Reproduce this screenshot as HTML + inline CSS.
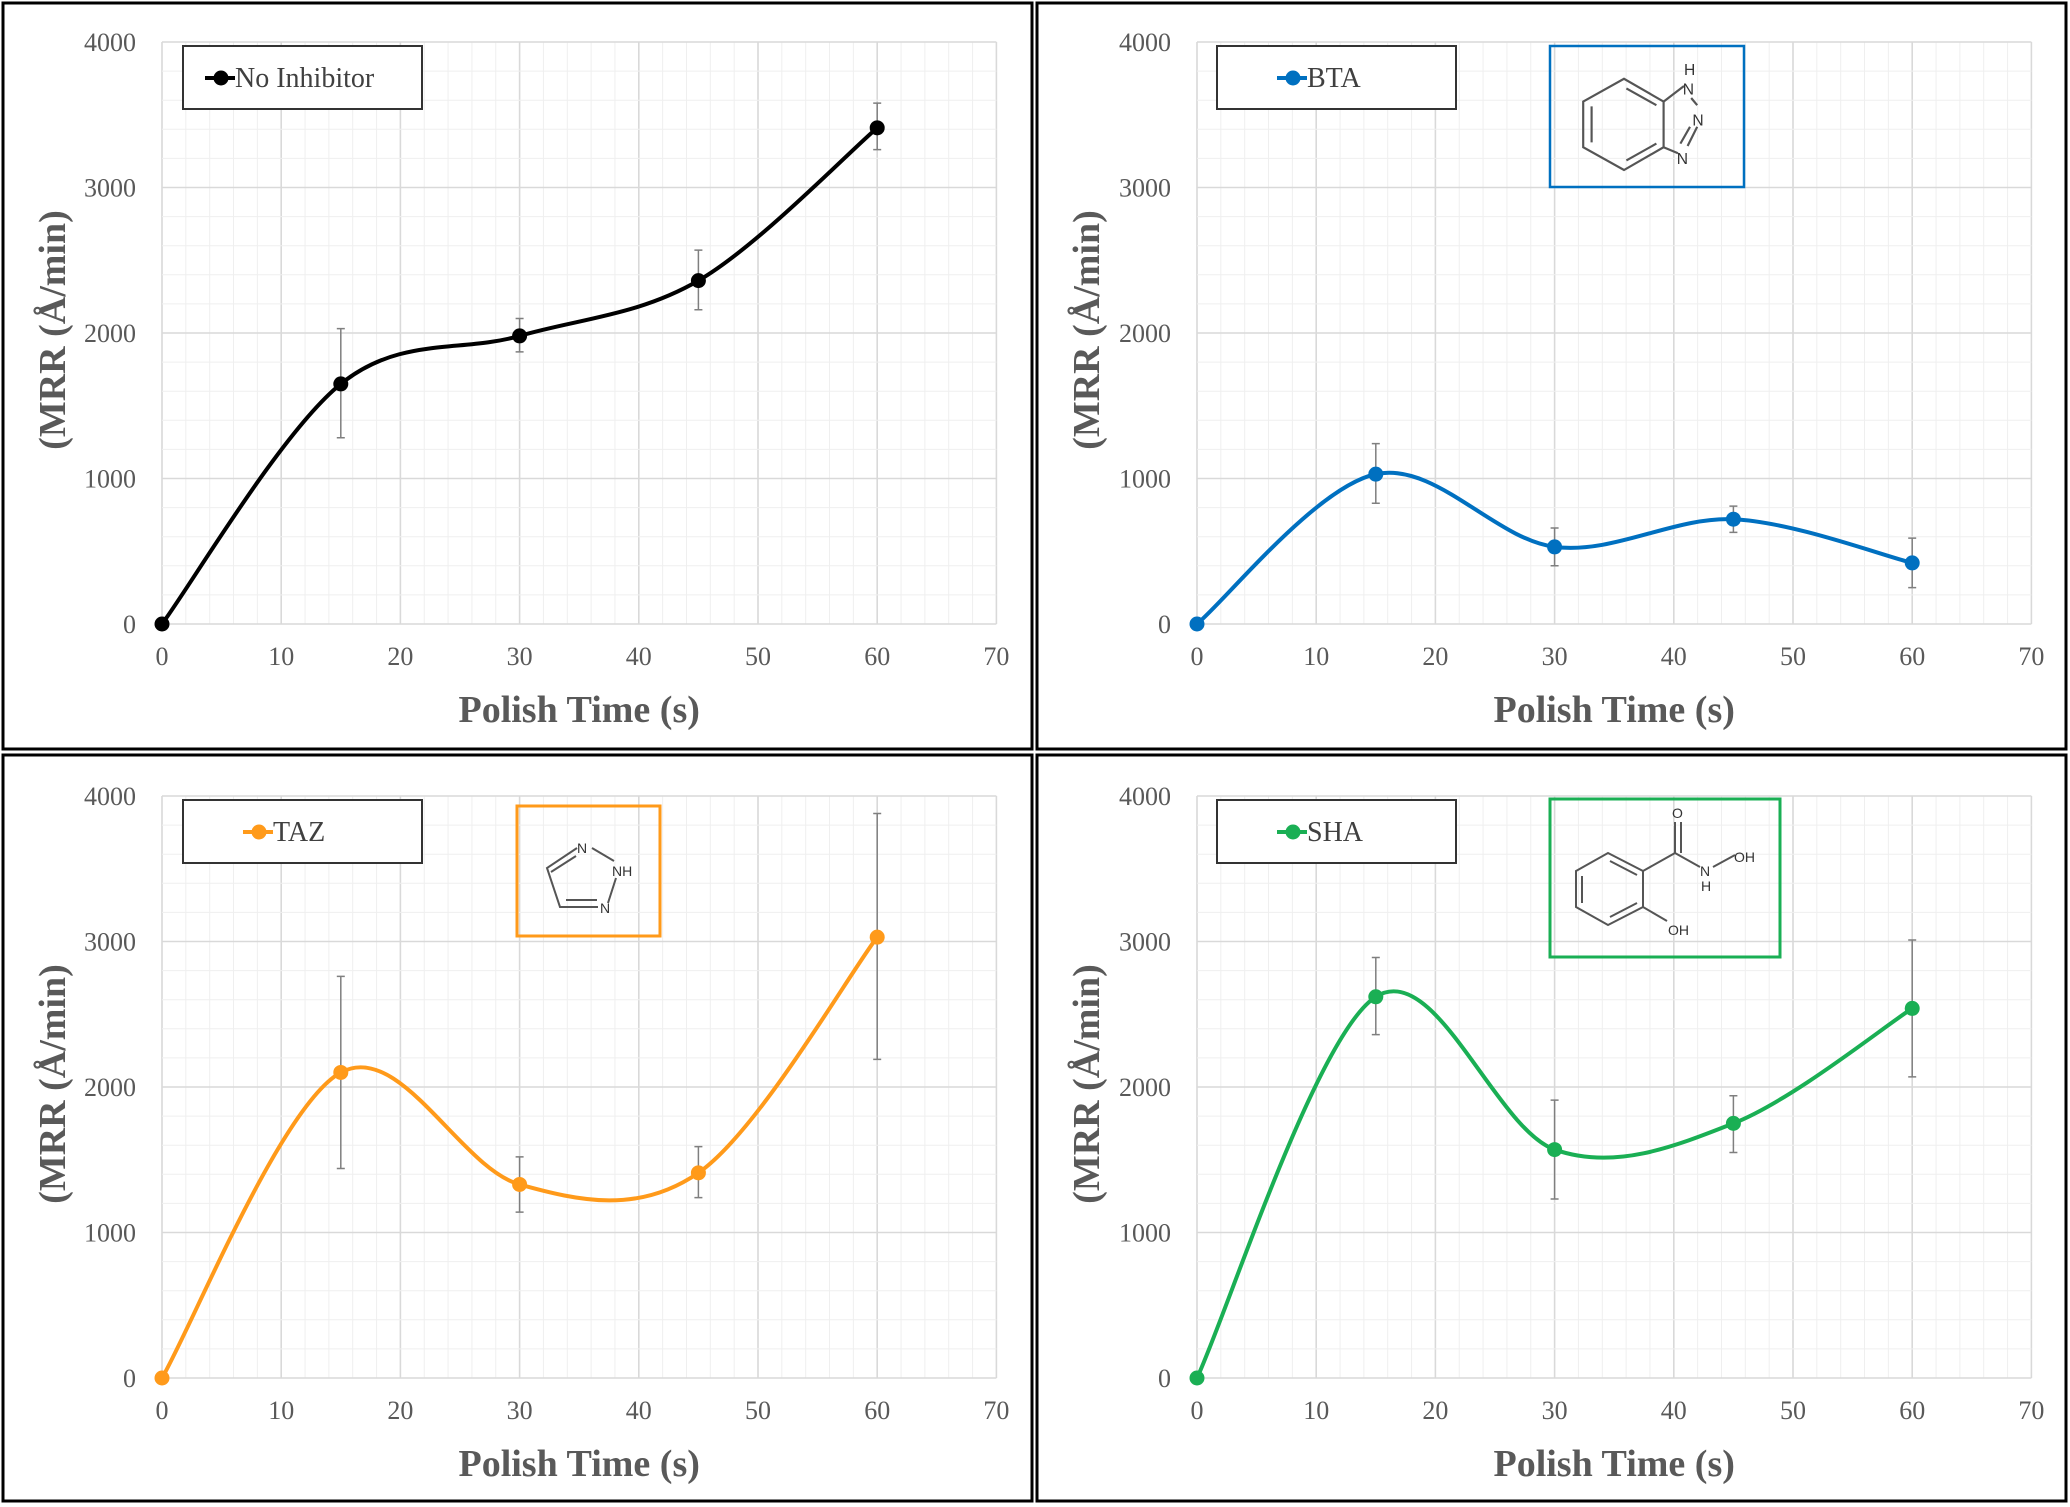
<!DOCTYPE html>
<html><head><meta charset="utf-8"><style>
html,body{margin:0;padding:0;background:#fff;}
svg{display:block;}
</style></head><body>
<svg id="s" width="2070" height="1507" xmlns="http://www.w3.org/2000/svg" font-family="Liberation Serif, serif">
<rect width="2070" height="1507" fill="#fff"/>
<g id="g"></g>
<!-- BTA molecule -->
<rect x="1550" y="46" width="194" height="141" fill="none" stroke="#0070C0" stroke-width="2.5"/>
<g transform="translate(1660,122) scale(1.2) translate(-1680,-122)">
<g stroke="#555" stroke-width="1.8" fill="none">
<path d="M1616,105 L1650,86 L1683,105 L1683,143 L1650,162 L1616,143 Z"/>
<path d="M1623,109 L1623,139 M1652,94 L1677,108 M1652,154 L1677,140"/>
<path d="M1683,105 L1700,92 M1706,102 L1711,108 M1711,126 L1703,142 M1705,126 L1697,140 M1683,143 L1695,148"/>
</g>
<g fill="#333" font-family="Liberation Sans, sans-serif" font-size="13">
<text x="1699" y="99">N</text><text x="1700" y="83">H</text><text x="1707" y="125">N</text><text x="1694" y="157">N</text>
</g>
</g>
<!-- TAZ molecule -->
<g stroke="#555" stroke-width="2" fill="none">
<rect x="517" y="806" width="143" height="130" stroke="#FF9A1A" stroke-width="3"/>
<path d="M577,848 L547,868 L560,907 L598,907 M551,872 L576,856 M566,900 L597,900 M592,848 L614,861 M616,878 L608,903"/>
</g>
<g fill="#333" font-family="Liberation Sans, sans-serif" font-size="14">
<text x="577" y="853">N</text><text x="612" y="876">NH</text><text x="600" y="913">N</text>
</g>
<!-- SHA molecule -->
<g stroke="#555" stroke-width="2" fill="none">
<rect x="1550" y="799" width="230" height="158" stroke="#1AAF54" stroke-width="3"/>
<path d="M1576,871 L1608,853 L1643,871 L1643,907 L1608,925 L1576,907 Z M1582,876 L1582,903 M1610,861 L1637,875 M1610,917 L1637,903"/>
<path d="M1643,871 L1675,853 L1675,822 M1681,853 L1681,822 M1675,853 L1700,867 M1713,867 L1735,855 M1643,907 L1667,921"/>
</g>
<g fill="#333" font-family="Liberation Sans, sans-serif" font-size="14">
<text x="1672" y="818">O</text><text x="1700" y="876">N</text><text x="1701" y="891">H</text><text x="1734" y="862">OH</text><text x="1668" y="935">OH</text>
</g>
</svg>
<script>
var g=document.getElementById('g');var h='';
var panels=[
{bx:3,by:3,x0:162,y0:624,c:'#000',name:'No Inhibitor',lx:183,ly:46,d:[[0,0],[15,1650],[30,1980],[45,2360],[60,3410]],e:[null,[1280,2030],[1870,2100],[2160,2570],[3260,3580]]},
{bx:1037,by:3,x0:1197,y0:624,c:'#0070C0',name:'BTA',lx:1217,ly:46,d:[[0,0],[15,1030],[30,530],[45,720],[60,420]],e:[null,[830,1240],[400,660],[630,810],[250,590]]},
{bx:3,by:755,x0:162,y0:1378,c:'#FF9A1A',name:'TAZ',lx:183,ly:800,d:[[0,0],[15,2100],[30,1330],[45,1410],[60,3030]],e:[null,[1440,2760],[1140,1520],[1240,1590],[2190,3880]]},
{bx:1037,by:755,x0:1197,y0:1378,c:'#1AAF54',name:'SHA',lx:1217,ly:800,d:[[0,0],[15,2620],[30,1570],[45,1750],[60,2540]],e:[null,[2360,2890],[1230,1910],[1550,1940],[2070,3010]]}
];
var XS=11.92,YS=0.1455;
panels.forEach(function(p){
 function X(v){return p.x0+v*XS;} function Y(v){return p.y0-v*YS;}
 h+='<rect x="'+p.bx+'" y="'+p.by+'" width="1029" height="746" fill="none" stroke="#000" stroke-width="3"/>';
 for(var i=0;i<=35;i++){var x=X(i*2);h+='<line x1="'+x+'" y1="'+Y(4000)+'" x2="'+x+'" y2="'+Y(0)+'" stroke="'+(i%5==0?'#d9d9d9':'#efefef')+'" stroke-width="'+(i%5==0?1.6:1)+'"/>';}
 for(var j=0;j<=20;j++){var y=Y(j*200);h+='<line x1="'+X(0)+'" y1="'+y+'" x2="'+X(70)+'" y2="'+y+'" stroke="'+(j%5==0?'#d9d9d9':'#efefef')+'" stroke-width="'+(j%5==0?1.6:1)+'"/>';}
 for(var k=0;k<=4;k++)h+='<text x="'+(p.x0-26)+'" y="'+(Y(k*1000)+9)+'" font-size="26" fill="#595959" text-anchor="end">'+k*1000+'</text>';
 for(var k=0;k<=7;k++)h+='<text x="'+X(k*10)+'" y="'+(p.y0+41)+'" font-size="26" fill="#595959" text-anchor="middle">'+k*10+'</text>';
 h+='<text x="'+X(35)+'" y="'+(p.y0+98)+'" font-size="38" font-weight="bold" fill="#595959" text-anchor="middle">Polish Time (s)</text>';
 var tx=p.bx+62,ty=p.y0-294;
 h+='<text transform="translate('+tx+','+ty+') rotate(-90)" font-size="38" font-weight="bold" fill="#595959" text-anchor="middle">(MRR (Å/min)</text>';
 var pts=p.d.map(function(q){return [X(q[0]),Y(q[1])];});
 var s='M'+pts[0][0]+','+pts[0][1];
 for(var i=0;i<pts.length-1;i++){var a=pts[Math.max(i-1,0)],b=pts[i],c=pts[i+1],d=pts[Math.min(i+2,pts.length-1)];
  var c1=[b[0]+(c[0]-a[0])/6,b[1]+(c[1]-a[1])/6],c2=[c[0]-(d[0]-b[0])/6,c[1]-(d[1]-b[1])/6];
  s+=' C'+c1+' '+c2+' '+c;}
 h+='<path d="'+s+'" fill="none" stroke="'+p.c+'" stroke-width="4"/>';
 p.e.forEach(function(e,i){if(!e)return;var x=X(p.d[i][0]);h+='<path d="M'+x+','+Y(e[0])+'V'+Y(e[1])+'M'+(x-4)+','+Y(e[0])+'h8M'+(x-4)+','+Y(e[1])+'h8" stroke="#7f7f7f" stroke-width="1.5" fill="none"/>';});
 pts.forEach(function(q){h+='<circle cx="'+q[0]+'" cy="'+q[1]+'" r="7.5" fill="'+p.c+'"/>';});
 h+='<rect x="'+p.lx+'" y="'+p.ly+'" width="239" height="63" fill="#fff" stroke="#333" stroke-width="2"/>';
 var mx=p.name.length>4?p.lx+48:p.lx+86;
 h+='<line x1="'+(mx-26)+'" y1="'+(p.ly+32)+'" x2="'+(mx+4)+'" y2="'+(p.ly+32)+'" stroke="'+p.c+'" stroke-width="4"/><circle cx="'+(mx-10)+'" cy="'+(p.ly+32)+'" r="7.5" fill="'+p.c+'"/>';
 h+='<text x="'+(mx+4)+'" y="'+(p.ly+41)+'" font-size="28" fill="#404040">'+p.name+'</text>';
});
g.innerHTML=h;
</script>
</body></html>
